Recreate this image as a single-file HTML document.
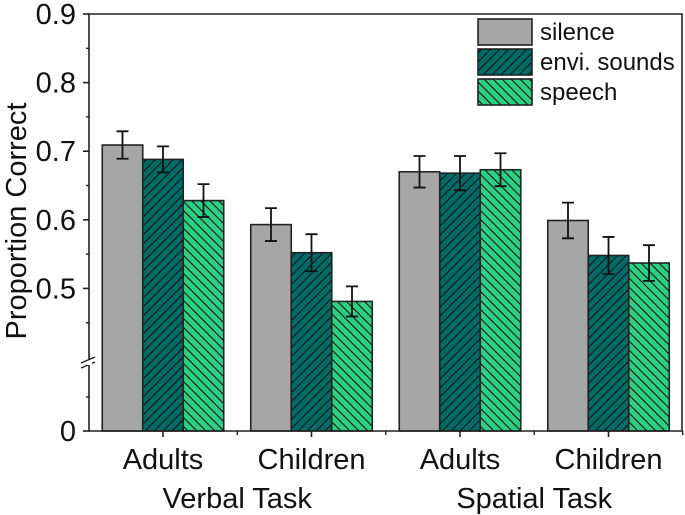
<!DOCTYPE html>
<html><head><meta charset="utf-8"><style>body{margin:0;background:#fff}svg{display:block;font-family:"Liberation Sans",Arial,sans-serif}</style></head>
<body>
<svg id="chart" width="685" height="515" viewBox="0 0 685 515" xmlns="http://www.w3.org/2000/svg">
<defs>
<pattern id="hatchF" patternUnits="userSpaceOnUse" width="9" height="9"><rect width="9" height="9" fill="#006b66"/><path d="M-2,11 L11,-2 M-2,2 L2,-2 M7,11 L11,7" stroke="#111" stroke-width="1"/></pattern>
<pattern id="hatchB" patternUnits="userSpaceOnUse" width="9" height="9"><rect width="9" height="9" fill="#2ecf82"/><path d="M-2,-2 L11,11 M-2,7 L2,11 M7,-2 L11,2" stroke="#111" stroke-width="1"/></pattern>
</defs>
<g id="marks"></g>
<g id="axes"></g>
</svg>
<script>
const categories = ["Adults","Children","Adults","Children"];
const groupLabels = ["Verbal Task","Spatial Task"];
const seriesNames = ["silence","envi. sounds","speech"];
const silence = [0.709,0.593,0.670,0.599];
const enviSounds = [0.688,0.552,0.668,0.548];
const speech = [0.628,0.481,0.673,0.537];
const silenceErr = [0.020,0.024,0.023,0.026];
const enviErr = [0.019,0.027,0.025,0.027];
const speechErr = [0.024,0.022,0.024,0.026];
const yTicks = [0.5,0.6,0.7,0.8,0.9];
const yTickLabels = ["0.5","0.6","0.7","0.8","0.9"];

const NS="http://www.w3.org/2000/svg";
const L=89,R=682,T=14,B=431;
function y(v){ if(v>=0.4) return T+(0.9-v)*686; return B-(v/0.4)*(B-357); }
function xc(i){ return 163+i*148.5; }
const bw=40.5;
function mk(tag,attrs,parent){const e=document.createElementNS(NS,tag);for(const k in attrs)e.setAttribute(k,attrs[k]);parent.appendChild(e);return e;}
const marks=document.getElementById('marks'), axes=document.getElementById('axes');
const series=[silence,enviSounds,speech], errs=[silenceErr,enviErr,speechErr];
const fills=["#a6a6a6","url(#hatchF)","url(#hatchB)"];
const keys=["silence","envi","speech"];
for(let s=0;s<3;s++){
  for(let i=0;i<categories.length;i++){
    const x0=xc(i)-1.5*bw+s*bw, v=series[s][i];
    const r=mk('rect',{x:x0,y:y(v),width:bw,height:B-y(v),fill:fills[s],stroke:"#222","stroke-width":1.6},marks);
    
    
    const cx=x0+bw/2, e=errs[s][i];
    const g=mk('g',{stroke:"#111","stroke-width":1.8,fill:"none"},marks);
    
    
    mk('path',{d:`M${cx},${y(v+e)}V${y(v-e)}M${cx-6},${y(v+e)}H${cx+6}M${cx-6},${y(v-e)}H${cx+6}`},g);
  }
}
const fr=mk('path',{d:`M${L},360 V${T} H${R} V${B} H${L} V365`,fill:"none",stroke:"#222","stroke-width":1.6},axes);


const br=mk('path',{d:`M81,363 L95,357 M81,368 L95,362`,stroke:"#222","stroke-width":1.4,fill:"none"},axes);


mk('rect',{x:87,y:361,width:5,height:4,fill:"#fff"},axes);
for(let i=0;i<yTicks.length;i++){
  const yy=y(yTicks[i]);
  mk('line',{x1:83,x2:L,y1:yy,y2:yy,stroke:"#222","stroke-width":1.6},axes);
  const t=mk('text',{x:76,y:yy+10,"text-anchor":"end","font-size":29,fill:"#111"},axes);
  t.textContent=yTickLabels[i];
  
  
  const ym=y(yTicks[i]+0.05); if(yTicks[i]<0.9) mk('line',{x1:86,x2:L,y1:ym,y2:ym,stroke:"#222","stroke-width":1.4},axes);
}
mk('line',{x1:86,x2:L,y1:y(0.45),y2:y(0.45),stroke:"#222","stroke-width":1.4},axes);
mk('line',{x1:86,x2:L,y1:397,y2:397,stroke:"#222","stroke-width":1.4},axes);
mk('line',{x1:83,x2:L,y1:B,y2:B,stroke:"#222","stroke-width":1.6},axes);
const z=mk('text',{x:76,y:B+10,"text-anchor":"end","font-size":29,fill:"#111"},axes); z.textContent="0";


for(let i=0;i<categories.length;i++){
  mk('line',{x1:xc(i),x2:xc(i),y1:B,y2:B+6,stroke:"#222","stroke-width":1.6},axes);
  mk('line',{x1:xc(i)+74.25,x2:xc(i)+74.25,y1:B,y2:B+4,stroke:"#222","stroke-width":1.4},axes);
  const t=mk('text',{x:xc(i),y:469,"text-anchor":"middle","font-size":29,fill:"#111"},axes);
  t.textContent=categories[i];
  
  
}
for(let g=0;g<groupLabels.length;g++){
  const t=mk('text',{x:(xc(2*g)+xc(2*g+1))/2,y:508,"text-anchor":"middle","font-size":29,fill:"#111"},axes);
  t.textContent=groupLabels[g];
  
  
}
const yt=mk('text',{x:0,y:0,transform:"translate(26,221) rotate(-90)","text-anchor":"middle","font-size":29,fill:"#111"},axes);
yt.textContent="Proportion Correct";


for(let s=0;s<3;s++){
  const yy=19+s*30;
  const lg=mk('g',{},axes);
  
  
  mk('rect',{x:478,y:yy,width:54,height:26,fill:fills[s],stroke:"#222","stroke-width":1.6},lg);
  const t=mk('text',{x:540,y:yy+21,"font-size":24,fill:"#111"},lg);
  t.textContent=seriesNames[s];
}
</script>
</body></html>
